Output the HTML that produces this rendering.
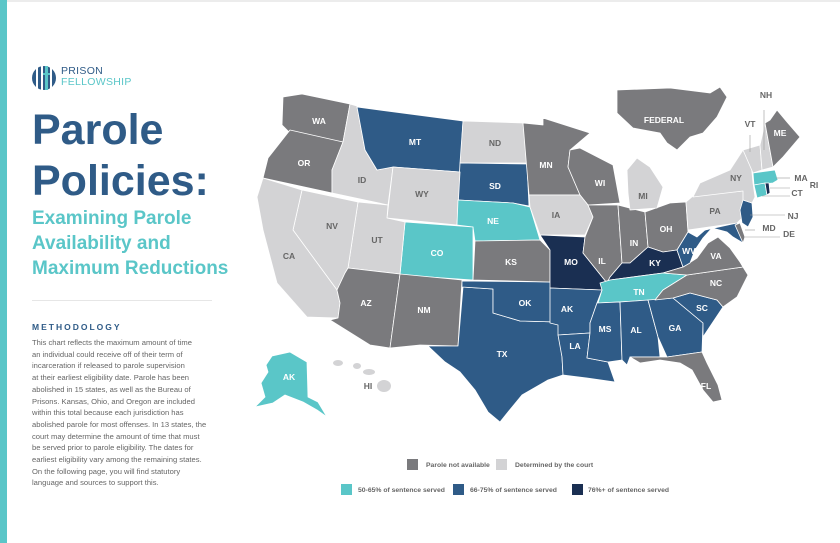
<!DOCTYPE html>
<html><head><meta charset="utf-8"><style>
body{margin:0;width:840px;height:543px;overflow:hidden;background:#fff;font-family:"Liberation Sans",sans-serif;position:relative}
.bar{position:absolute;left:0;top:0;width:7px;height:543px;background:#5ac6c8}
.top{position:absolute;left:7px;top:0;width:833px;height:2px;background:#ececec}
.t{position:absolute}
</style></head><body>
<div class="bar"></div><div class="top"></div>
<svg class="t" style="left:32px;top:65px" width="24" height="26" viewBox="0 0 24 26"><circle cx="12" cy="13" r="12" fill="#2f5b87"/><rect x="4" y="2" width="2" height="22" fill="#fff"/><rect x="9" y="1" width="2" height="24" fill="#fff"/><rect x="13" y="1" width="3" height="24" fill="#5ac6c8"/><rect x="11" y="8" width="8" height="2" fill="#5ac6c8"/><rect x="18" y="2" width="2" height="22" fill="#fff"/></svg>
<div class="t" style="left:61px;top:66px;font-size:10.5px;line-height:11px;color:#2f5b87;letter-spacing:0.3px">PRISON<br><span style="color:#5ac6c8">FELLOWSHIP</span></div>
<div class="t" style="left:32px;top:105px;font-size:43px;line-height:51px;font-weight:bold;color:#2f5b87">Parole<br>Policies:</div>
<div class="t" style="left:32px;top:206px;font-size:19px;line-height:25px;font-weight:bold;color:#5ac6c8">Examining Parole<br>Availability and<br>Maximum Reductions</div>
<div class="t" style="left:32px;top:300px;width:180px;height:1px;background:#e6e6e6"></div>
<div class="t" style="left:32px;top:322px;font-size:8.5px;font-weight:bold;letter-spacing:2px;color:#2f5b87">METHODOLOGY</div>
<div class="t" style="left:32px;top:337px;width:200px;font-size:7.6px;line-height:11.7px;color:#666">This chart reflects the maximum amount of time<br>an individual could receive off of their term of<br>incarceration if released to parole supervision<br>at their earliest eligibility date. Parole has been<br>abolished in 15 states, as well as the Bureau of<br>Prisons. Kansas, Ohio, and Oregon are included<br>within this total because each jurisdiction has<br>abolished parole for most offenses. In 13 states, the<br>court may determine the amount of time that must<br>be served prior to parole eligibility. The dates for<br>earliest eligibility vary among the remaining states.<br>On the following page, you will find statutory<br>language and sources to support this.</div>
<svg class="t" style="left:0;top:0" width="840" height="543">
<g stroke="#fff" stroke-width="0.8" stroke-linejoin="round">
<polygon fill="#7a7a7d" points="283,97 302,94 350,104 343,142 290,133 282,125"/>
<polygon fill="#7a7a7d" points="290,130 343,142 332,170 332,193 263,178 268,158"/>
<polygon fill="#d3d3d5" points="350,104 357,106 365,150 377,170 393,167 388,205 332,193 332,170 343,142"/>
<polygon fill="#2f5b87" points="357,107 463,121 460,172 393,167 377,170 365,150"/>
<polygon fill="#d3d3d5" points="463,121 523,123 528,163 460,163"/>
<polygon fill="#2f5b87" points="460,163 527,164 529,206 513,203 458,200"/>
<polygon fill="#d3d3d5" points="393,167 460,172 457,225 387,218"/>
<polygon fill="#5ac6c8" points="458,200 513,203 530,207 540,240 475,241 473,227 457,225"/>
<polygon fill="#5ac6c8" points="405,222 473,227 473,280 400,275"/>
<polygon fill="#d3d3d5" points="358,202 388,205 387,218 405,222 400,274 348,268"/>
<polygon fill="#d3d3d5" points="302,190 358,202 348,268 345,273 337,290 293,230"/>
<polygon fill="#d3d3d5" points="263,178 302,190 293,230 337,290 340,303 338,318 307,317 277,283 263,230 257,197"/>
<polygon fill="#7a7a7d" points="348,268 400,274 390,348 370,345 330,320 338,318 340,303 337,290 345,273"/>
<polygon fill="#7a7a7d" points="400,274 462,280 458,346 420,345 390,348"/>
<polygon fill="#2f5b87" points="463,287 493,289 493,313 520,321 558,322 562,357 563,375 548,380 522,395 508,412 500,422 488,412 475,390 460,372 445,362 428,346 458,346"/>
<polygon fill="#2f5b87" points="462,281 550,282 555,295 558,322 520,321 493,313 493,289 462,287"/>
<polygon fill="#7a7a7d" points="475,241 540,240 550,250 550,282 473,280"/>
<polygon fill="#7a7a7d" points="523,123 543,125 543,118 590,133 570,150 568,167 580,195 529,195"/>
<polygon fill="#7a7a7d" points="570,150 580,148 613,165 620,203 588,205 580,195 568,167"/>
<polygon fill="#d3d3d5" points="529,195 580,195 588,205 593,217 585,235 540,235 530,207"/>
<polygon fill="#1a2f52" points="540,235 585,237 583,253 607,283 602,290 550,288 550,250"/>
<polygon fill="#7a7a7d" points="588,205 618,205 622,263 610,277 607,283 583,253 585,237 593,217"/>
<polygon fill="#7a7a7d" points="618,205 645,212 648,247 630,263 622,263"/>
<polygon fill="#7a7a7d" points="645,212 670,203 686,202 688,232 677,250 663,252 648,247"/>
<polygon fill="#d3d3d5" points="627,170 637,158 650,167 663,187 657,208 630,210 628,193"/>
<polygon fill="#1a2f52" points="622,263 630,263 648,247 663,252 677,250 683,267 663,273 610,280 607,283 610,277"/>
<polygon fill="#5ac6c8" points="600,283 610,280 663,273 687,275 663,290 655,300 598,303 602,290"/>
<polygon fill="#2f5b87" points="550,288 602,290 597,303 590,323 590,333 558,335 558,325 550,323"/>
<polygon fill="#2f5b87" points="558,335 590,333 587,358 608,362 615,382 587,378 563,375 562,357"/>
<polygon fill="#2f5b87" points="597,303 620,302 622,360 608,362 587,358 590,333 590,323"/>
<polygon fill="#2f5b87" points="620,302 648,300 658,337 660,357 630,357 627,365 622,360"/>
<polygon fill="#2f5b87" points="648,300 673,298 703,323 702,352 667,357 658,337"/>
<polygon fill="#2f5b87" points="673,298 690,293 717,300 723,307 703,337 703,323"/>
<polygon fill="#7a7a7d" points="630,357 667,357 702,352 707,363 718,385 722,400 713,402 703,390 692,370 680,363 660,360 640,363"/>
<polygon fill="#7a7a7d" points="663,290 687,275 743,267 748,275 737,297 723,307 717,300 690,293 673,298 655,300"/>
<polygon fill="#7a7a7d" points="663,273 683,267 697,258 708,243 718,237 730,248 740,262 743,267 687,275"/>
<polygon fill="#2f5b87" points="677,250 688,232 697,237 705,230 712,228 703,238 695,250 690,263 683,267"/>
<polygon fill="#2f5b87" points="705,230 737,223 743,243 733,237 727,232 712,228"/>
<polygon fill="#7a7a7d" points="735,225 740,223 745,237 743,243"/>
<polygon fill="#d3d3d5" points="686,202 693,196 743,191 750,200 745,215 737,223 688,230"/>
<polygon fill="#2f5b87" points="743,200 752,203 753,217 748,227 742,223 740,210"/>
<polygon fill="#d3d3d5" points="693,197 700,183 730,170 743,150 750,152 753,183 755,197 752,203 743,200 743,191"/>
<polygon fill="#d3d3d5" points="743,150 760,145 762,170 753,173"/>
<polygon fill="#d3d3d5" points="760,145 765,123 773,167 762,170"/>
<polygon fill="#7a7a7d" points="765,123 770,120 777,110 787,122 800,137 783,157 773,167"/>
<polygon fill="#5ac6c8" points="753,173 775,170 778,180 773,183 754,185"/>
<polygon fill="#5ac6c8" points="754,185 765,183 767,195 757,198"/>
<polygon fill="#1a2f52" points="765,183 769,183 770,193 767,195"/>
<polygon fill="#7a7a7d" points="617,90 670,88 710,93 720,87 727,97 717,117 703,133 690,137 677,150 667,143 660,133 633,128 617,113"/>
<polygon fill="#5ac6c8" points="272,356 290,352 307,362 308,397 318,402 327,417 317,410 303,402 285,395 273,403 255,407 265,397 261,383 268,372 266,365"/>
</g>
<g fill="#d3d3d5"><ellipse cx="338" cy="363" rx="5" ry="3"/><ellipse cx="357" cy="366" rx="4" ry="3"/><ellipse cx="369" cy="372" rx="6" ry="3"/><ellipse cx="384" cy="386" rx="7" ry="6"/></g>
<g stroke="#999" stroke-width="0.6"><line x1="750" y1="152" x2="750" y2="135"/><line x1="764" y1="150" x2="764" y2="110"/><line x1="776" y1="178" x2="790" y2="178"/><line x1="770" y1="188" x2="790" y2="188"/><line x1="762" y1="196" x2="790" y2="196"/><line x1="750" y1="215" x2="785" y2="215"/><line x1="745" y1="230" x2="755" y2="230"/><line x1="745" y1="237" x2="780" y2="237"/></g>
<g font-size="8.5" font-weight="bold" text-anchor="middle" fill="#fff">
<text x="319" y="124">WA</text><text x="304" y="166">OR</text><text x="415" y="145">MT</text><text x="495" y="189">SD</text><text x="493" y="224">NE</text><text x="437" y="256">CO</text><text x="511" y="265">KS</text><text x="366" y="306">AZ</text><text x="424" y="313">NM</text><text x="525" y="306">OK</text><text x="502" y="357">TX</text><text x="546" y="168">MN</text><text x="600" y="186">WI</text><text x="602" y="264">IL</text><text x="634" y="246">IN</text><text x="666" y="232">OH</text><text x="571" y="265">MO</text><text x="655" y="266">KY</text><text x="639" y="295">TN</text><text x="567" y="312">AK</text><text x="605" y="332">MS</text><text x="636" y="333">AL</text><text x="675" y="331">GA</text><text x="702" y="311">SC</text><text x="575" y="349">LA</text><text x="706" y="389">FL</text><text x="689" y="254">WV</text><text x="716" y="259">VA</text><text x="716" y="286">NC</text><text x="780" y="136">ME</text><text x="664" y="123">FEDERAL</text><text x="289" y="380">AK</text>
</g>
<g font-size="8.5" font-weight="bold" text-anchor="middle" fill="#666">
<text x="495" y="146">ND</text><text x="362" y="183">ID</text><text x="422" y="197">WY</text><text x="332" y="229">NV</text><text x="377" y="243">UT</text><text x="289" y="259">CA</text><text x="556" y="218">IA</text><text x="643" y="199">MI</text><text x="736" y="181">NY</text><text x="715" y="214">PA</text><text x="368" y="389">HI</text>
<text x="766" y="98">NH</text><text x="750" y="127">VT</text><text x="801" y="181">MA</text><text x="814" y="188">RI</text><text x="797" y="196">CT</text><text x="793" y="219">NJ</text><text x="769" y="231">MD</text><text x="789" y="237">DE</text>
</g>
<g font-size="6.8" font-weight="bold" fill="#666">
<rect x="407" y="459" width="11" height="11" fill="#7a7a7d"/><text x="426" y="467">Parole not available</text>
<rect x="496" y="459" width="11" height="11" fill="#d3d3d5"/><text x="515" y="467">Determined by the court</text>
<rect x="341" y="484" width="11" height="11" fill="#5ac6c8"/><text x="358" y="492">50-65% of sentence served</text>
<rect x="453" y="484" width="11" height="11" fill="#2f5b87"/><text x="470" y="492">66-75% of sentence served</text>
<rect x="572" y="484" width="11" height="11" fill="#1a2f52"/><text x="588" y="492">76%+ of sentence served</text>
</g>
</svg>
</body></html>
